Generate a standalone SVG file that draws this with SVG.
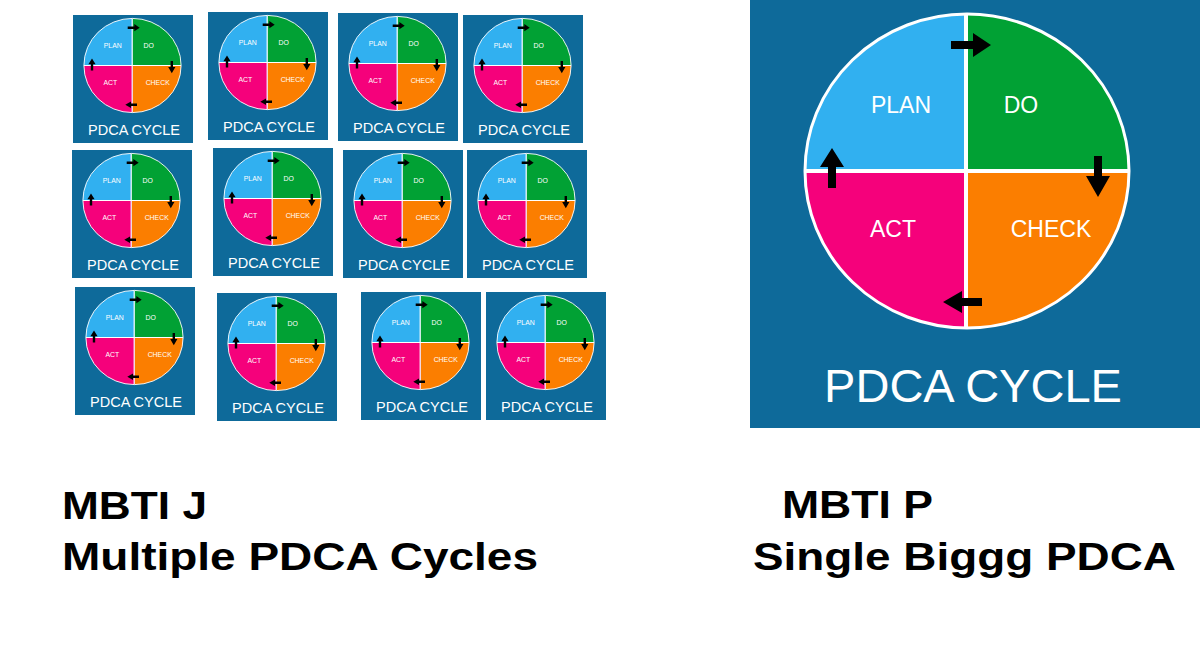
<svg xmlns="http://www.w3.org/2000/svg" xmlns:xlink="http://www.w3.org/1999/xlink" width="1200" height="656" viewBox="0 0 1200 656">
<style>
.bg{fill:#0e6a9a}
.plan{fill:#31b0f0}
.do{fill:#01a134}
.check{fill:#fb7e00}
.act{fill:#f5017b}
.wl{fill:#ffffff;font-family:"Liberation Sans",Arial,sans-serif;font-size:23px;text-anchor:middle}
.title{fill:#ffffff;font-family:"Liberation Sans",Arial,sans-serif;text-anchor:middle}
.cap{fill:#000000;font-family:"Liberation Sans",Arial,sans-serif;font-weight:bold;font-size:38px}
.arr{fill:#000000}
</style>
<defs>
<g id="wheel">
<path class="plan" d="M0,0 L-162,0 A162,157 0 0 1 0,-157 Z"/>
<path class="do" d="M0,0 L0,-157 A162,157 0 0 1 162,0 Z"/>
<path class="check" d="M0,0 L162,0 A162,157 0 0 1 0,157 Z"/>
<path class="act" d="M0,0 L0,157 A162,157 0 0 1 -162,0 Z"/>
<ellipse cx="0" cy="0" rx="162" ry="157" fill="none" stroke="#ffffff" stroke-width="3"/>
<line x1="-1" y1="-157" x2="-1" y2="157" stroke="#ffffff" stroke-width="4"/>
<line x1="-162" y1="0" x2="162" y2="0" stroke="#ffffff" stroke-width="4"/>
<text class="wl" x="-66" y="-58">PLAN</text>
<text class="wl" x="54" y="-58">DO</text>
<text class="wl" x="-74" y="66">ACT</text>
<text class="wl" x="84" y="66">CHECK</text>
<polygon class="arr" points="-16,-130 6,-130 6,-138 24,-126 6,-114 6,-122 -16,-122"/>
<polygon class="arr" points="127,-15 135,-15 135,5 143,5 131,26 119,5 127,5"/>
<polygon class="arr" points="15,127 -5,127 -5,120 -24,131 -5,142 -5,135 15,135"/>
<polygon class="arr" points="-139,17 -139,-4 -147,-4 -135,-23 -123,-4 -131,-4 -131,17"/>
</g>
<g id="tile">
<rect class="bg" x="0" y="0" width="120" height="128"/>
<use href="#wheel" xlink:href="#wheel" transform="translate(59.5,50.5) scale(0.3)"/>
<text class="title" x="61" y="120" font-size="14.5">PDCA CYCLE</text>
</g>
</defs>
<rect x="0" y="0" width="1200" height="656" fill="#ffffff"/>
<g id="small-cycles">
<g id="tile-1" transform="translate(73,15)"><use href="#tile" xlink:href="#tile"/></g>
<g id="tile-2" transform="translate(208,12)"><use href="#tile" xlink:href="#tile"/></g>
<g id="tile-3" transform="translate(338,13)"><use href="#tile" xlink:href="#tile"/></g>
<g id="tile-4" transform="translate(463,15)"><use href="#tile" xlink:href="#tile"/></g>
<g id="tile-5" transform="translate(72,150)"><use href="#tile" xlink:href="#tile"/></g>
<g id="tile-6" transform="translate(213,148)"><use href="#tile" xlink:href="#tile"/></g>
<g id="tile-7" transform="translate(343,150)"><use href="#tile" xlink:href="#tile"/></g>
<g id="tile-8" transform="translate(467,150)"><use href="#tile" xlink:href="#tile"/></g>
<g id="tile-9" transform="translate(75,287)"><use href="#tile" xlink:href="#tile"/></g>
<g id="tile-10" transform="translate(217,293)"><use href="#tile" xlink:href="#tile"/></g>
<g id="tile-11" transform="translate(361,292)"><use href="#tile" xlink:href="#tile"/></g>
<g id="tile-12" transform="translate(486,292)"><use href="#tile" xlink:href="#tile"/></g>
</g>
<g id="big-cycle">
<rect class="bg" x="750" y="0" width="450" height="428"/>
<use href="#wheel" xlink:href="#wheel" transform="translate(967,171)"/>
<text class="title" x="973" y="402" font-size="47">PDCA CYCLE</text>
</g>
<g id="captions">
<text class="cap" x="62" y="519" textLength="145" lengthAdjust="spacingAndGlyphs">MBTI J</text>
<text class="cap" x="62" y="570" textLength="476" lengthAdjust="spacingAndGlyphs">Multiple PDCA Cycles</text>
<text class="cap" x="782" y="518" textLength="151" lengthAdjust="spacingAndGlyphs">MBTI P</text>
<text class="cap" x="753" y="570" textLength="423" lengthAdjust="spacingAndGlyphs">Single Biggg PDCA</text>
</g>
</svg>
